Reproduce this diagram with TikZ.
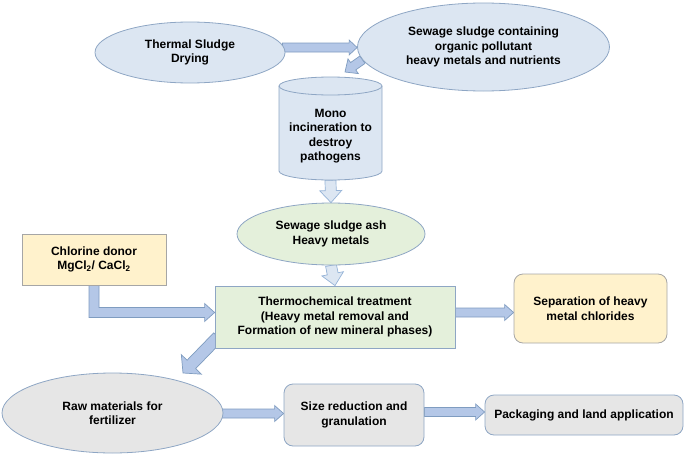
\documentclass[tikz,border=0pt]{standalone}
\usepackage{fontspec}
\setmainfont{Liberation Sans}
\usetikzlibrary{calc,shapes.geometric,backgrounds}
\definecolor{blfill}{HTML}{DCE6F2}
\definecolor{blline}{HTML}{8EA6C4}
\definecolor{grfill}{HTML}{E4F0DB}
\definecolor{yefill}{HTML}{FFF2CC}
\definecolor{gyfill}{HTML}{E6E6E6}
\definecolor{arfill}{HTML}{B4C7E7}
\definecolor{arline}{HTML}{7F9CC0}
\definecolor{alfill}{HTML}{DCE6F2}
\definecolor{alline}{HTML}{95B3D7}
\definecolor{gyline}{HTML}{A6A6A6}
% block arrow: [style]{from}{to}{half shaft}{half head}{head length}
\newcommand{\blockarr}[6][]{%
  \coordinate (bC) at ($(#3)!#6!(#2)$);
  \filldraw[barrow,#1] ($(#2)!#4!90:(#3)$) -- ($(bC)!#4!-90:(#2)$) -- ($(bC)!#5!-90:(#2)$) -- (#3) -- ($(bC)!#5!90:(#2)$) -- ($(bC)!#4!90:(#2)$) -- ($(#2)!#4!-90:(#3)$) -- cycle;
}
\begin{document}
\begin{tikzpicture}[x=1pt,y=-1pt,
  every node/.style={font=\bfseries\fontsize{12}{14.5}\selectfont, align=center, inner sep=0pt},
  ell/.style={ellipse, draw=blline, line width=0.8pt},
  box/.style={rectangle, draw=blline, line width=0.8pt},
  rbox/.style={rectangle, rounded corners=9pt, draw=blline, line width=0.8pt},
  barrow/.style={fill=arfill, draw=arline, line width=0.7pt, line join=miter},
  lightarrow/.style={fill=alfill, draw=alline}]
\useasboundingbox (0,0) rectangle (685,455);

% nodes
\node[ell, fill=blfill, minimum width=190pt, minimum height=61pt] (thermal) at (190,52.5) {Thermal Sludge\\Drying};
\node[ell, fill=blfill, minimum width=252pt, minimum height=88pt] (sew) at (483.5,47) {Sewage sludge containing\\organic pollutant\\heavy metals and nutrients};

% cylinder
\filldraw[fill=blfill, draw=blline, line width=0.8pt] (279,86) -- (279,171)
  arc[start angle=180, end angle=360, x radius=51.5pt, y radius=9pt] -- (382,86)
  arc[start angle=0, end angle=180, x radius=51.5pt, y radius=9pt] -- cycle;
\draw[draw=blline, line width=0.8pt] (279,86) arc[start angle=180, end angle=360, x radius=51.5pt, y radius=9pt];
\node[minimum width=103pt, minimum height=103pt] (cyl) at (330.5,128.5) {};
\node (cyltext) at (330.5,136) {Mono\\incineration to\\destroy\\pathogens};

\node[ell, fill=grfill, minimum width=188pt, minimum height=62pt] (green) at (331,234) {Sewage sludge ash\\Heavy metals};
\node[box, fill=yefill, draw=gyline, minimum width=144pt, minimum height=51pt] (chl) at (94,259.5) {Chlorine donor\\MgCl\textsubscript{2}/ CaCl\textsubscript{2}};
\node[box, fill=grfill, minimum width=240pt, minimum height=62pt] (thermo) at (335,317) {Thermochemical treatment\\(Heavy metal removal and\\Formation of new mineral phases)};
\node[rbox, fill=yefill, draw=gyline, minimum width=153pt, minimum height=69pt] (sep) at (590.5,308.5) {Separation of heavy\\metal chlorides};
\node[ell, fill=gyfill, minimum width=221pt, minimum height=80pt] (raw) at (112.5,413) {Raw materials for\\fertilizer};
\node[rbox, fill=gyfill, minimum width=140pt, minimum height=62pt] (size) at (354,415) {Size reduction and\\granulation};
\node[rbox, fill=gyfill, minimum width=198pt, minimum height=40pt] (pack) at (584,415) {Packaging and land application};

% connectors
\begin{pgfonlayer}{background}
\coordinate (a1s) at ($(thermal.east)+(-3,-5)$);
\coordinate (a1e) at (sew.west |- a1s);
\blockarr{a1s}{a1e}{4.5pt}{7.5pt}{8pt}

\coordinate (a2s) at (sew.186);
\coordinate (a2e) at (345,72);
\blockarr{a2s}{a2e}{4.5pt}{9pt}{10pt}

\blockarr[lightarrow]{cyl.south}{green.north}{5.5pt}{11pt}{12pt}
\blockarr[lightarrow]{green.south}{thermo.north}{5.5pt}{11pt}{12pt}

\coordinate (a5s) at ($(thermo.east)+(0,-4.5)$);
\coordinate (a5e) at (sep.west |- a5s);
\blockarr{a5s}{a5e}{4.5pt}{8pt}{9pt}

\coordinate (e1) at (chl.south);
\coordinate (e3) at ($(thermo.west)+(0,-4.5)$);
\coordinate (e2) at (e1 |- e3);
\filldraw[barrow] ($(e1)+(-5,0)$) -- ($(e2)+(-5,5)$) -- ($(e3)+(-10,5)$) -- ($(e3)+(-10,9)$) -- (e3)
  -- ($(e3)+(-10,-9)$) -- ($(e3)+(-10,-5)$) -- ($(e2)+(5,-5)$) -- ($(e1)+(5,0)$) -- cycle;

\coordinate (a7s) at (218,337);
\coordinate (a7e) at (183,373);
\blockarr{a7s}{a7e}{6pt}{14pt}{12pt}

\coordinate (a8s) at ($(raw.east)+(-2,0.5)$);
\coordinate (a8e) at (size.west |- a8s);
\blockarr{a8s}{a8e}{4.5pt}{8pt}{9pt}

\coordinate (a9s) at ($(size.east)+(0,-3)$);
\coordinate (a9e) at (pack.west |- a9s);
\blockarr{a9s}{a9e}{4.5pt}{8pt}{9pt}
\end{pgfonlayer}
\end{tikzpicture}
\end{document}
